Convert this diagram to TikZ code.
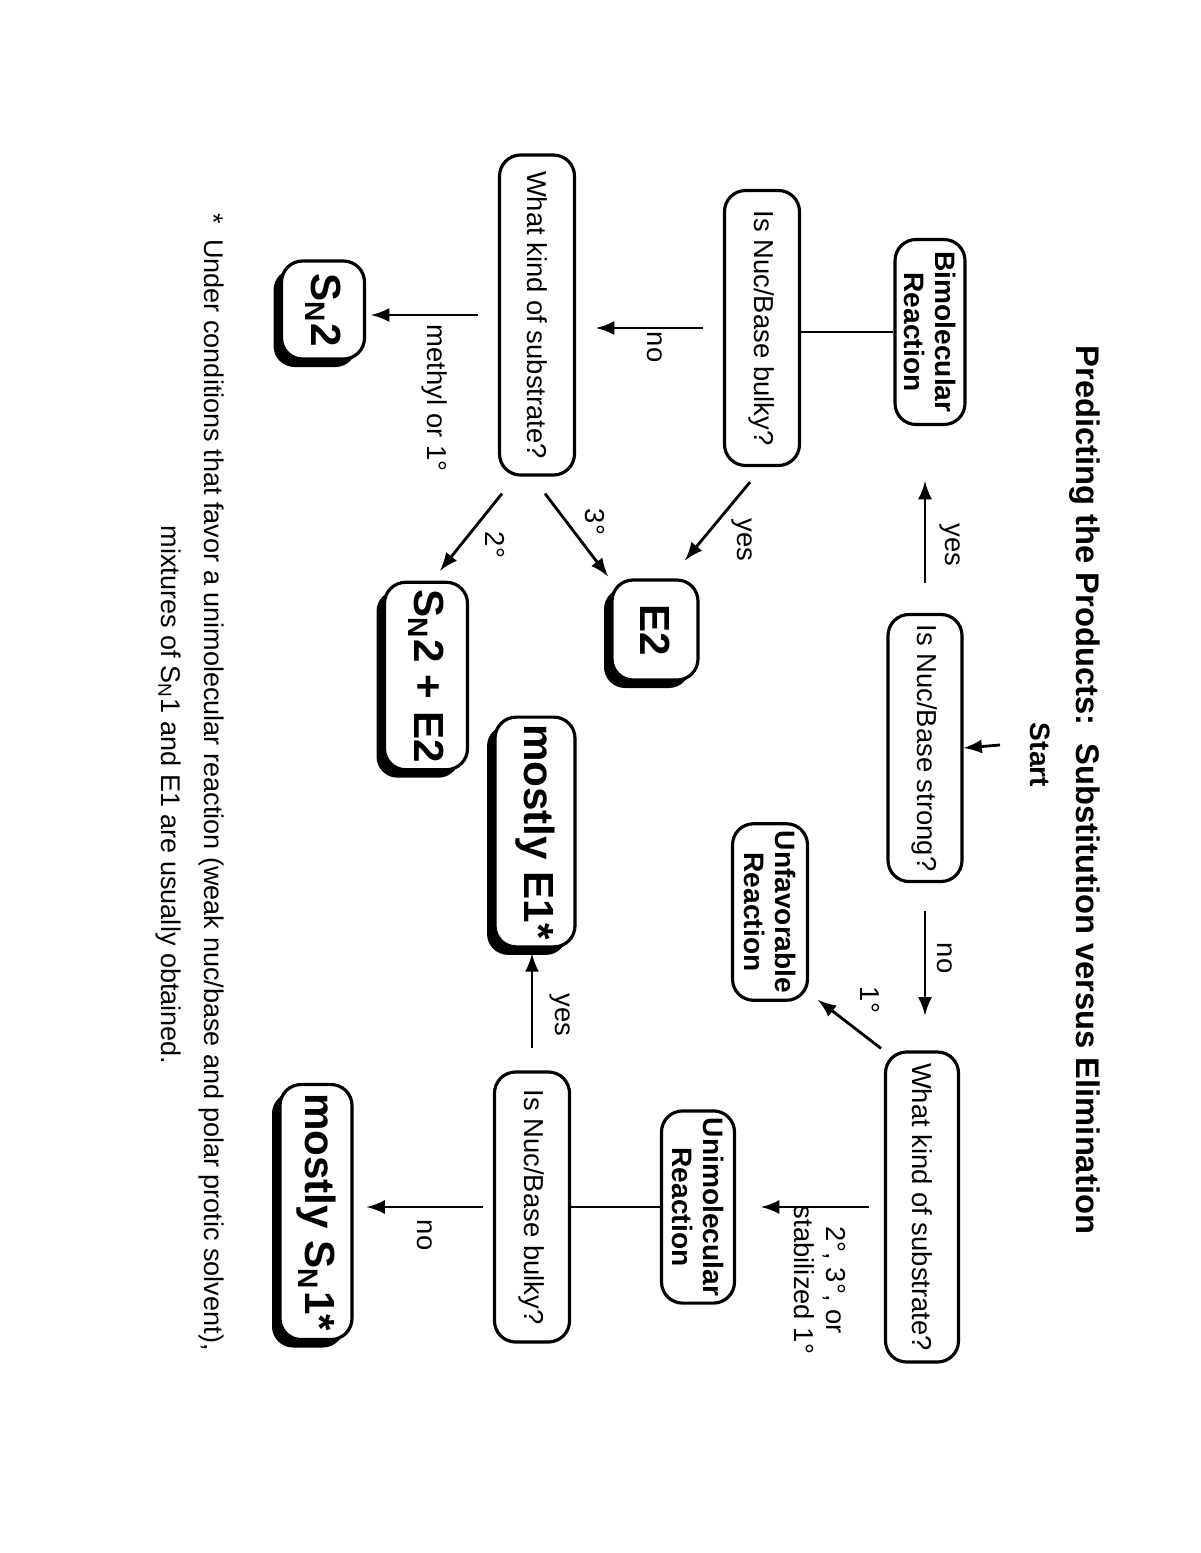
\documentclass[tikz,border=0pt]{standalone}
\usepackage{fontspec}
\setmainfont{Liberation Sans}
\usetikzlibrary{shadows}
\begin{document}
\begin{tikzpicture}[
  box/.style={draw, line width=0.9pt, rounded corners=6pt, rotate=-90, align=center, font=\fontsize{7.8}{9}\selectfont, inner sep=2pt},
  bigbox/.style={box, font=\fontsize{12}{13}\bfseries, drop shadow={shadow xshift=-0.08cm, shadow yshift=-0.08cm, fill=black, opacity=1}, fill=white},
  arr/.style={-latex, line width=0.8pt},
  lab/.style={rotate=-90, font=\fontsize{7.8}{9}\selectfont, align=center},
]
\useasboundingbox (0,0) rectangle (12,-15.53);
\node[rotate=-90, font=\fontsize{9.3}{11}\bfseries\selectfont] (title) at (10.85,-7.9) {Predicting the Products:\ \ Substitution versus Elimination};
\node[lab, font=\fontsize{8}{9}\bfseries\selectfont] (start) at (10.4,-7.55) {Start};
\node[box, minimum width=2.67cm, minimum height=0.74cm] (strong) at (9.25,-7.48) {Is Nuc/Base strong?};
\draw[arr] (10.0,-7.45) -- (strong.north);
\node[box, font=\fontsize{8}{9}\bfseries\selectfont, minimum width=1.85cm, minimum height=0.7cm] (bimol) at (9.3,-3.32) {Bimolecular\\Reaction};
\node[box, minimum width=3.1cm, minimum height=0.73cm] (subR) at (9.22,-12.07) {What kind of substrate?};
\node[box, font=\fontsize{8}{9}\bfseries\selectfont, minimum width=1.75cm, minimum height=0.75cm] (unfav) at (7.7,-9.12) {Unfavorable\\Reaction};
\node[box, font=\fontsize{8}{9}\bfseries\selectfont, minimum width=1.75cm, minimum height=0.73cm] (unimol) at (6.98,-12.07) {Unimolecular\\Reaction};
\node[box, minimum width=2.7cm, minimum height=0.75cm] (bulkyR) at (5.32,-12.07) {Is Nuc/Base bulky?};
\node[bigbox, minimum width=2.25cm, minimum height=0.8cm] (E1) at (5.35,-8.32) {mostly E1*};
\node[bigbox, minimum width=2.55cm, minimum height=0.72cm] (SN1) at (3.16,-12.12) {mostly S\textsubscript{N}1*};
\node[box, minimum width=2.75cm, minimum height=0.75cm] (bulkyL) at (7.62,-3.28) {Is Nuc/Base bulky?};
\node[box, minimum width=3.2cm, minimum height=0.75cm] (subL) at (5.37,-3.15) {What kind of substrate?};
\node[bigbox, minimum width=1.0cm, minimum height=0.86cm] (E2) at (6.55,-6.3) {E2};
\node[bigbox, minimum width=1.77cm, minimum height=0.83cm] (SNE) at (4.26,-6.76) {S\textsubscript{N}2 + E2};
\node[bigbox, minimum width=0.98cm, minimum height=0.83cm] (SN2) at (3.23,-3.1) {S\textsubscript{N}2};

\draw[arr, shorten <=0.3cm, shorten >=0.55cm] (strong.west) -- (strong.west |- bimol.east);
\node[lab] at (9.5,-5.45) {yes};
\draw[arr, shorten <=0.28cm, shorten >=0.35cm] (strong.east) -- (strong.east |- subR.west);
\node[lab] at (9.45,-9.58) {no};
\draw[arr] ([shift={(-0.41,0.02)}]subR.west) -- ([shift={(0.48,0.02)}]unfav.east);
\node[lab] at (8.7,-10.0) {1°};
\draw[arr, shorten <=0.15cm, shorten >=0.25cm] (subR.south) -- (subR.south -| unimol.north);
\node[lab] at (8.2,-12.8) {2°, 3°, or\\stabilized 1°};
\draw[line width=0.8pt] (unimol.south) -- (unimol.south -| bulkyR.north);
\draw[arr, shorten <=0.22cm, shorten >=0.05cm] (bulkyR.west) -- (bulkyR.west |- E1.east);
\node[lab] at (5.6,-10.15) {yes};
\draw[arr, shorten <=0.1cm, shorten >=0.13cm] (bulkyR.south) -- (bulkyR.south -| SN1.north);
\node[lab] at (4.25,-12.35) {no};
\draw[line width=0.8pt] (bimol.south) -- (bimol.south -| bulkyL.north);
\draw[arr, shorten <=0.2cm, shorten >=0.2cm] (bulkyL.south) -- (bulkyL.south -| subL.north);
\node[lab] at (6.55,-3.47) {no};
\draw[arr] ([shift={(-0.12,-0.15)}]bulkyL.east) -- ([shift={(0.3,0.18)}]E2.west);
\node[lab] at (7.42,-5.4) {yes};
\draw[arr] ([shift={(0.08,-0.17)}]subL.east) -- ([shift={(-0.47,0.02)}]E2.west);
\node[lab] at (5.95,-5.22) {3°};
\draw[arr] ([shift={(-0.35,-0.17)}]subL.east) -- ([shift={(0.14,0.1)}]SNE.west);
\node[lab] at (4.95,-5.45) {2°};
\draw[arr, shorten <=0.2cm, shorten >=0.05cm] (subL.south) -- (subL.south -| SN2.north);
\node[lab] at (4.35,-3.98) {methyl or 1°};
\node[lab, font=\fontsize{7.7}{12}\selectfont] (foot) at (1.9,-7.95) {\llap{*\ \ }Under conditions that favor a unimolecular reaction (weak nuc/base and polar protic solvent),\\mixtures of S\textsubscript{N}1 and E1 are usually obtained.};
\end{tikzpicture}
\end{document}
